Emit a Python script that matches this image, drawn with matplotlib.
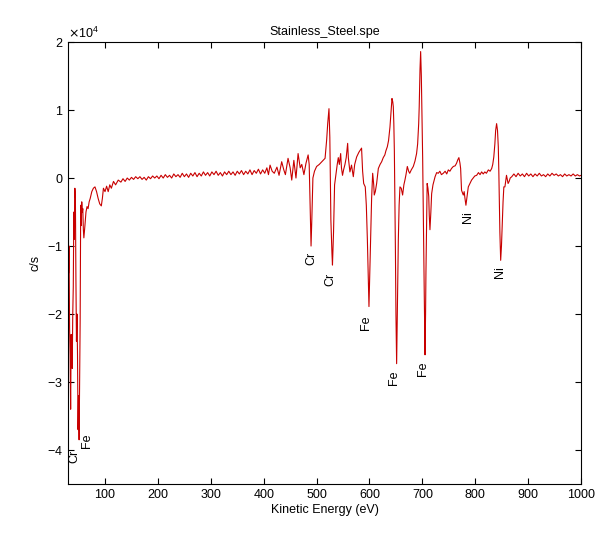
import numpy as np
import matplotlib
matplotlib.use("Agg")
import matplotlib.pyplot as plt
from matplotlib.ticker import ScalarFormatter

plt.rcParams['font.family'] = ['Liberation Sans', 'DejaVu Sans']

# kinetic energy (eV) and signal (units of 1e4 c/s)
energy = [30, 30.5, 31, 32, 33, 34, 35, 36, 37, 38, 39, 40, 41, 42, 43, 44, 45, 46, 47, 48,
          49, 50, 51, 52, 53, 54, 55, 56, 57, 58, 59, 60, 62, 64, 66, 68, 70, 72, 75, 78,
          81, 84, 87, 90, 93, 95, 97, 100, 103, 106, 109, 112, 116, 120, 125, 130, 134, 138, 142, 146,
          150, 154, 158, 162, 166, 170, 174, 178, 182, 186, 190, 194, 198, 202, 206, 210, 214, 218, 222, 226,
          230, 234, 238, 242, 246, 250, 254, 258, 262, 266, 270, 274, 278, 282, 286, 290, 294, 298, 302, 306,
          310, 314, 318, 322, 326, 330, 334, 338, 342, 346, 350, 354, 358, 362, 366, 370, 374, 378, 382, 386,
          390, 394, 398, 402, 406, 409, 412, 416, 420, 425, 429, 434, 438, 441, 446, 450, 453, 457, 461, 465,
          469, 472, 476, 480, 484, 486, 488, 489.5, 491, 493, 496, 500, 505, 510, 516, 519, 521, 523.4, 525, 527,
          529, 530, 532, 534, 536, 539, 541, 543, 545.5, 547, 549, 551, 553.6, 556, 558.7, 560, 563, 566, 569.4, 572,
          575.7, 580, 585, 587, 589, 592, 594, 596, 598, 599, 600.5, 602, 604, 606, 608, 609, 611, 613.5, 616.7, 620,
          623, 626, 629, 631, 633.7, 636, 638.7, 641, 642.5, 644, 645, 646, 647, 648, 649, 650, 651.3, 653, 654.5, 656,
          657.6, 660, 662.6, 665, 667, 669, 671.5, 674, 676, 679, 682.8, 686, 689, 691, 693, 694, 695.5, 696.7, 698, 699,
          700.5, 701.7, 703, 703.6, 705, 706, 706.7, 708, 709, 710.5, 712, 713, 714.3, 716, 717.5, 720, 724, 727, 730, 733,
          736, 739.5, 743, 746, 749, 752, 755, 758.4, 762, 764.7, 767, 769, 771, 772.3, 774, 776, 777.3, 779, 780.5, 782.3,
          784, 786.8, 790, 793, 796, 799, 802.6, 806, 809, 812, 815, 818, 821, 824.7, 828, 831, 833, 835, 837, 838.5,
          840.3, 842, 843.5, 844.5, 845.4, 846.5, 848, 849.5, 851, 852.5, 854, 856, 859, 862, 864, 866, 869, 873, 877, 881,
          885, 889, 893, 897, 901, 905, 909, 913, 917, 921, 925, 929, 933, 937, 941, 945, 949, 953, 957, 961,
          965, 969, 973, 977, 981, 985, 989, 993, 997, 1000]
signal = [1.45, 1.5, -1.4, -1.0, -2.2, -2.6, -3.4, -2.3, -2.6, -2.8, -2.0, -1.6, -0.5, -0.9, -0.15, -0.3, -1.5, -2.4, -2.0, -2.6,
          -3.7, -3.2, -3.85, -3.0, -2.1, -0.4, -0.7, -0.35, -0.5, -0.45, -0.75, -0.88, -0.7, -0.5, -0.42, -0.45, -0.35, -0.3, -0.2, -0.15,
          -0.13, -0.2, -0.3, -0.38, -0.41, -0.3, -0.15, -0.2, -0.12, -0.2, -0.1, -0.15, -0.05, -0.1, -0.03, -0.06, -0.01, -0.05, 0.0, -0.03,
          0.01, -0.02, 0.02, -0.01, 0.02, -0.02, 0.01, -0.03, 0.02, -0.01, 0.03, 0.0, 0.03, -0.01, 0.04, 0.0, 0.05, 0.01, 0.04, 0.0,
          0.06, 0.02, 0.05, 0.01, 0.07, 0.02, 0.06, 0.01, 0.07, 0.03, 0.08, 0.02, 0.07, 0.03, 0.09, 0.04, 0.08, 0.03, 0.09, 0.05,
          0.10, 0.04, 0.08, 0.03, 0.09, 0.05, 0.10, 0.05, 0.09, 0.04, 0.10, 0.06, 0.11, 0.05, 0.10, 0.06, 0.12, 0.05, 0.11, 0.07,
          0.13, 0.06, 0.12, 0.07, 0.15, 0.05, 0.19, 0.10, 0.07, 0.16, 0.04, 0.24, 0.12, 0.05, 0.29, 0.15, -0.03, 0.26, 0.0, 0.36,
          0.15, 0.20, 0.05, 0.22, 0.34, 0.20, -0.5, -1.0, -0.6, 0.0, 0.1, 0.17, 0.2, 0.24, 0.29, 0.56, 0.8, 1.02, 0.6, -0.62,
          -1.1, -1.28, -0.8, -0.1, 0.02, 0.2, 0.3, 0.2, 0.36, 0.15, 0.04, 0.12, 0.2, 0.3, 0.51, 0.3, 0.09, 0.19, 0.02, 0.2,
          0.31, 0.38, 0.44, 0.1, -0.08, -0.13, -0.4, -0.91, -1.6, -1.89, -1.4, -0.91, -0.3, 0.07, -0.1, -0.25, -0.2, -0.08, 0.14, 0.2,
          0.24, 0.3, 0.34, 0.4, 0.46, 0.55, 0.75, 1.0, 1.17, 1.12, 1.05, 0.8, 0.4, -0.3, -1.06, -2.0, -2.73, -1.8, -0.91, -0.4,
          -0.13, -0.15, -0.25, -0.1, -0.03, 0.05, 0.17, 0.1, 0.07, 0.12, 0.17, 0.25, 0.36, 0.5, 0.8, 1.05, 1.6, 1.86, 1.5, 1.05,
          0.3, -0.52, -1.4, -1.75, -2.60, -2.0, -1.40, -0.6, -0.08, -0.15, -0.27, -0.55, -0.76, -0.5, -0.23, -0.1, 0.02, 0.08, 0.07, 0.1,
          0.05, 0.07, 0.1, 0.06, 0.12, 0.1, 0.14, 0.17, 0.18, 0.22, 0.27, 0.30, 0.22, 0.14, -0.18, -0.22, -0.25, -0.20, -0.3, -0.40,
          -0.3, -0.13, -0.08, -0.03, 0.0, 0.03, 0.04, 0.08, 0.05, 0.09, 0.06, 0.09, 0.07, 0.12, 0.1, 0.14, 0.2, 0.31, 0.5, 0.7,
          0.80, 0.7, 0.46, 0.1, -0.32, -0.8, -1.21, -1.0, -0.67, -0.35, -0.13, -0.13, 0.04, -0.08, -0.05, 0.0, 0.02, 0.06, 0.02, 0.07,
          0.03, 0.06, 0.02, 0.07, 0.03, 0.06, 0.02, 0.06, 0.03, 0.07, 0.03, 0.05, 0.02, 0.06, 0.03, 0.07, 0.04, 0.06, 0.03, 0.05,
          0.02, 0.06, 0.03, 0.05, 0.03, 0.06, 0.03, 0.05, 0.03, 0.04]

# peak labels: text, energy (eV), y (units of 1e4)
peak_names = ['Cr', 'Fe', 'Cr', 'Cr', 'Fe', 'Fe', 'Fe', 'Ni', 'Ni']
peak_x = [43, 65, 490.6, 526.6, 593, 647, 700.5, 785.5, 846.6]
peak_y = [-4.10, -3.86, -1.18, -1.49, -2.13, -2.93, -2.80, -0.58, -1.38]

x = np.array(energy)
y = np.array(signal) * 1e4

fig = plt.figure(figsize=(5.98, 5.39), dpi=100)
ax = fig.add_axes([0.1137, 0.102, 0.858, 0.82])
ax.plot(x, y, color='#c80000', lw=0.8)

for name, px, py in zip(peak_names, peak_x, peak_y):
    ax.text(px, py * 1e4, name, rotation=90, ha='center', va='center', fontsize=9)

ax.set_xlim(30, 1000)
ax.set_ylim(-4.5e4, 2e4)
ax.set_xticks(np.arange(100, 1001, 100))
ax.set_yticks(np.arange(-4e4, 2.01e4, 1e4))
fmt = ScalarFormatter(useMathText=True)
fmt.set_powerlimits((0, 0))
ax.yaxis.set_major_formatter(fmt)
ax.tick_params(direction='in', top=True, right=True, labelsize=9, length=4.5)
ax.yaxis.get_offset_text().set_fontsize(9)
ax.set_title('Stainless_Steel.spe', fontsize=9, pad=5)
ax.set_xlabel('Kinetic Energy (eV)', fontsize=9, labelpad=2)
ax.set_ylabel('c/s', fontsize=9)

fig.savefig('out.png', dpi=100)
